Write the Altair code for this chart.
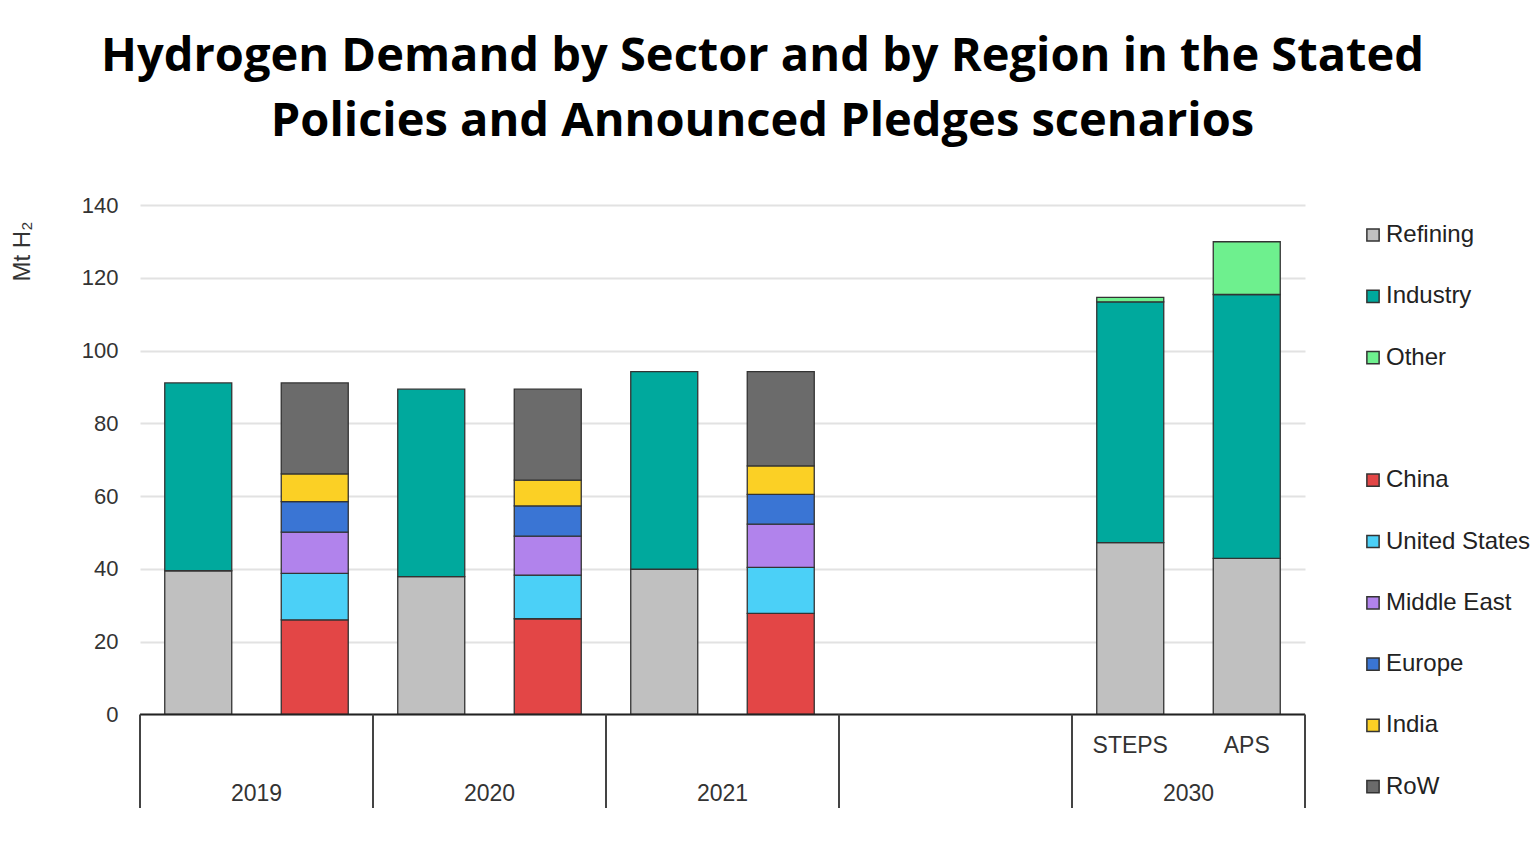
import altair as alt
import pandas as pd

# Historical demand (Mt H2): by sector and by region
years = ["2019", "2020", "2021"]
refining_hist = [39.5, 37.9, 39.9]
industry_hist = [51.6, 51.5, 54.3]
china = [26.0, 26.3, 27.8]
united_states = [12.8, 12.0, 12.6]
middle_east = [11.3, 10.7, 11.9]
europe = [8.4, 8.3, 8.2]
india = [7.6, 7.1, 7.8]
rest_of_world = [25.0, 25.0, 25.9]

# 2030 scenarios by sector
scenarios = ["STEPS", "APS"]
refining_2030 = [47.2, 42.9]
industry_2030 = [66.2, 72.5]
other_2030 = [1.2, 14.5]

categories = ["Refining", "Industry", "Other", " ", "China", "United States",
              "Middle East", "Europe", "India", "RoW"]
fills = ["#c0c0c0", "#00a99d", "#6ef08e", "transparent", "#e34646", "#4bd0f7",
         "#b183ec", "#3a75d4", "#fbd025", "#6b6b6b"]
strokes = ["#333333"] * 3 + ["transparent"] + ["#333333"] * 6

# Slot layout along the x axis (10 slots, two per group)
sector_slots = [0, 2, 4]
region_slots = [1, 3, 5]
scenario_slots = [8, 9]
group_edges = [0, 2, 4, 6, 8, 10]
group_labels = ["2019", "2020", "2021", "2030"]
group_label_slots = [1, 3, 5, 9]
box_bottom = -25.7

rows = []
for i, s in enumerate(sector_slots):
    rows.append({"slot": s, "Category": "Refining", "value": refining_hist[i], "ord": 0})
    rows.append({"slot": s, "Category": "Industry", "value": industry_hist[i], "ord": 1})
region_series = [("China", china), ("United States", united_states),
                 ("Middle East", middle_east), ("Europe", europe),
                 ("India", india), ("RoW", rest_of_world)]
for i, s in enumerate(region_slots):
    for k, (name, vals) in enumerate(region_series):
        rows.append({"slot": s, "Category": name, "value": vals[i], "ord": k})
for i, s in enumerate(scenario_slots):
    rows.append({"slot": s, "Category": "Refining", "value": refining_2030[i], "ord": 0})
    rows.append({"slot": s, "Category": "Industry", "value": industry_2030[i], "ord": 1})
    rows.append({"slot": s, "Category": "Other", "value": other_2030[i], "ord": 2})
bars_df = pd.DataFrame(rows)

x_scale = alt.Scale(domain=[0, 10], nice=False, zero=False, padding=0)
y_scale = alt.Scale(domain=[box_bottom, 140], nice=False, zero=False)

label_font = "Liberation Sans"

y_axis = alt.Axis(values=[0, 20, 40, 60, 80, 100, 120, 140], grid=True,
                  gridColor="#e2e2e2", gridWidth=2, domain=False, ticks=False,
                  labelFontSize=22, labelFont=label_font, labelColor="#333333",
                  labelPadding=22, title="Mt H₂", titleFont=label_font,
                  titleFontSize=24, titleFontWeight="normal", titleColor="#333333",
                  titleX=-106, titleY=46)

bars = alt.Chart(bars_df).transform_calculate(
    xc="datum.slot + 0.5"
).mark_bar(size=67, strokeWidth=1.3).encode(
    x=alt.X("xc:Q", scale=x_scale, axis=None),
    y=alt.Y("value:Q", stack="zero", scale=y_scale, axis=y_axis),
    fill=alt.Fill("Category:N", scale=alt.Scale(domain=categories, range=fills),
                  legend=alt.Legend(title=None, orient="none", legendX=1221, legendY=18,
                                    symbolType="square", symbolSize=150,
                                    symbolStrokeWidth=1.5, labelFontSize=24,
                                    labelFont=label_font, labelColor="#222222",
                                    labelOffset=1, rowPadding=37.3, padding=0,
                                    labelLimit=300)),
    stroke=alt.Stroke("Category:N", scale=alt.Scale(domain=categories, range=strokes)),
    order=alt.Order("ord:Q"),
)

base_df = pd.DataFrame({"x": [0], "x2": [10], "y": [0]})
baseline = alt.Chart(base_df).mark_rule(color="#222222", strokeWidth=2).encode(
    x=alt.X("x:Q", scale=x_scale, axis=None), x2="x2:Q",
    y=alt.Y("y:Q", scale=y_scale, axis=y_axis),
)

edges_df = pd.DataFrame({"x": group_edges, "y": [0] * len(group_edges),
                         "y2": [box_bottom] * len(group_edges)})
edges = alt.Chart(edges_df).mark_rule(color="#444444", strokeWidth=2).encode(
    x=alt.X("x:Q", scale=x_scale, axis=None),
    y=alt.Y("y:Q", scale=y_scale, axis=y_axis), y2="y2:Q",
)

year_df = pd.DataFrame({"x": group_label_slots, "label": group_labels,
                        "y": [-21.8] * len(group_labels)})
year_text = alt.Chart(year_df).mark_text(fontSize=23, font=label_font, color="#333333",
                                         baseline="middle").encode(
    x=alt.X("x:Q", scale=x_scale, axis=None),
    y=alt.Y("y:Q", scale=y_scale, axis=y_axis), text="label:N",
)

scen_df = pd.DataFrame({"x": [s + 0.5 for s in scenario_slots], "label": scenarios,
                        "y": [-8.6] * len(scenarios)})
scen_text = alt.Chart(scen_df).mark_text(fontSize=23, font=label_font, color="#333333",
                                         baseline="middle").encode(
    x=alt.X("x:Q", scale=x_scale, axis=None),
    y=alt.Y("y:Q", scale=y_scale, axis=y_axis), text="label:N",
)

chart = alt.layer(bars, baseline, edges, year_text, scen_text).properties(
    width=1165, height=603,
    background="white",
    autosize=alt.AutoSizeParams(type="none"),
    padding={"left": 140, "top": 205, "right": 231, "bottom": 56},
    title=alt.TitleParams(
        ["Hydrogen Demand by Sector and by Region in the Stated",
         "Policies and Announced Pledges scenarios"],
        font="Open Sans", fontSize=47, fontWeight=700, color="#000000",
        anchor="middle", frame="group", dx=40, lineHeight=65,
        baseline="alphabetic", offset=11),
).configure_view(stroke=None)

chart.save("out.html", embed_options={"renderer": "svg", "actions": False})
